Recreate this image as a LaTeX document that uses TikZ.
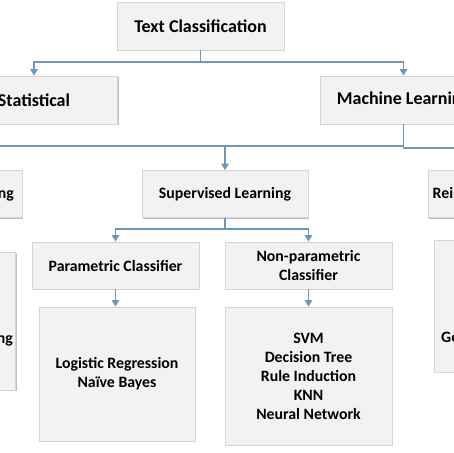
\documentclass[tikz,border=0pt]{standalone}
\usepackage{fontspec}
\setmainfont{Carlito}
\usetikzlibrary{arrows.meta,shadows}
\definecolor{boxfill}{HTML}{F2F2F2}
\definecolor{boxline}{HTML}{D4D4D4}
\definecolor{conn}{HTML}{6A98C0}
\tikzset{
  cbox/.style={draw=boxline, fill=boxfill, line width=0.8pt, inner sep=2pt, align=center,
    font=\bfseries, text=black,
    drop shadow={shadow xshift=1.4pt, shadow yshift=-1.4pt, fill=black!50, opacity=0.5}},
  big/.style={font=\fontsize{18}{21}\selectfont\bfseries},
  mid/.style={font=\fontsize{15.8}{19}\selectfont\bfseries},
  lbl/.style={inner sep=0pt, text=black, mid},
  conline/.style={draw=conn, line width=1.2pt},
  arr/.style={conline, -{Triangle[width=7.5pt,length=6.5pt]}}
}
\begin{document}
\begin{tikzpicture}[x=1pt,y=-1pt]
\useasboundingbox (0,0) rectangle (453,453);
\fill[white] (0,0) rectangle (453,453);
% level 1
\node[cbox,big,minimum width=167pt,minimum height=48pt] (tc) at (200.5,26) {Text Classification};
% level 2
\node[cbox,big,minimum width=167pt,minimum height=48pt] (stat) at (34,100) {Statistical};
\node[cbox,big,minimum width=167pt,minimum height=48pt] (ml) at (403.5,100) {Machine Learning};
% level 3
\node[cbox,mid,minimum width=166pt,minimum height=47pt] (uns) at (-61,194) {Unsupervised Learning};
\node[cbox,mid,minimum width=166pt,minimum height=47pt] (sup) at (225,194) {Supervised Learning};
\node[cbox,mid,minimum width=166pt,minimum height=47pt] (rein) at (511,194) {Reinforcement Learning};
% level 4
\node[cbox,mid,minimum width=167pt,minimum height=47pt] (par) at (115.5,265.5) {Parametric Classifier};
\node[cbox,mid,minimum width=167pt,minimum height=47pt] (npar) at (308.5,265.5) {Non-parametric\\Classifier};
% level 5
\node[cbox,minimum width=160pt,minimum height=138pt] (ul) at (-64.5,321) {};
\node[lbl,anchor=east] (ultxt) at (13,339) {Clustering};
\node[cbox,mid,minimum width=156pt,minimum height=134pt] (lr) at (117,374) {Logistic Regression\\Naïve Bayes};
\node[cbox,mid,minimum width=167pt,minimum height=138pt] (svm) at (308.5,376) {SVM\\Decision Tree\\Rule Induction\\KNN\\Neural Network};
\node[cbox,minimum width=160pt,minimum height=132pt] (rl) at (514,306) {};
\node[lbl,anchor=west] (rltxt) at (441,338) {Genetic Algorithm};
% connectors
\coordinate (j1) at (200.5,62);
\draw[conline] (tc.south) -- (j1);
\draw[arr] (j1) -| (stat.north);
\draw[arr] (j1) -| (ml.north);
\coordinate (j2) at (403.5,146);
\coordinate (jr) at (460,148);
\draw[conline] (ml.south) -- (j2);
\draw[conline] (ml.south) |- (jr);
\coordinate (jl) at (-10,146);
\draw[conline] (j2) -- (jl);
\draw[arr] (sup.north |- j2) -- (sup.north);
\coordinate (j3) at (225,229);
\draw[conline] (sup.south) -- (j3);
\draw[arr] (j3) -| (par.north);
\draw[arr] (j3) -| (npar.north);
\draw[arr] (par.south) -- (par.south |- lr.north);
\draw[arr] (npar.south) -- (svm.north);
\end{tikzpicture}
\end{document}
